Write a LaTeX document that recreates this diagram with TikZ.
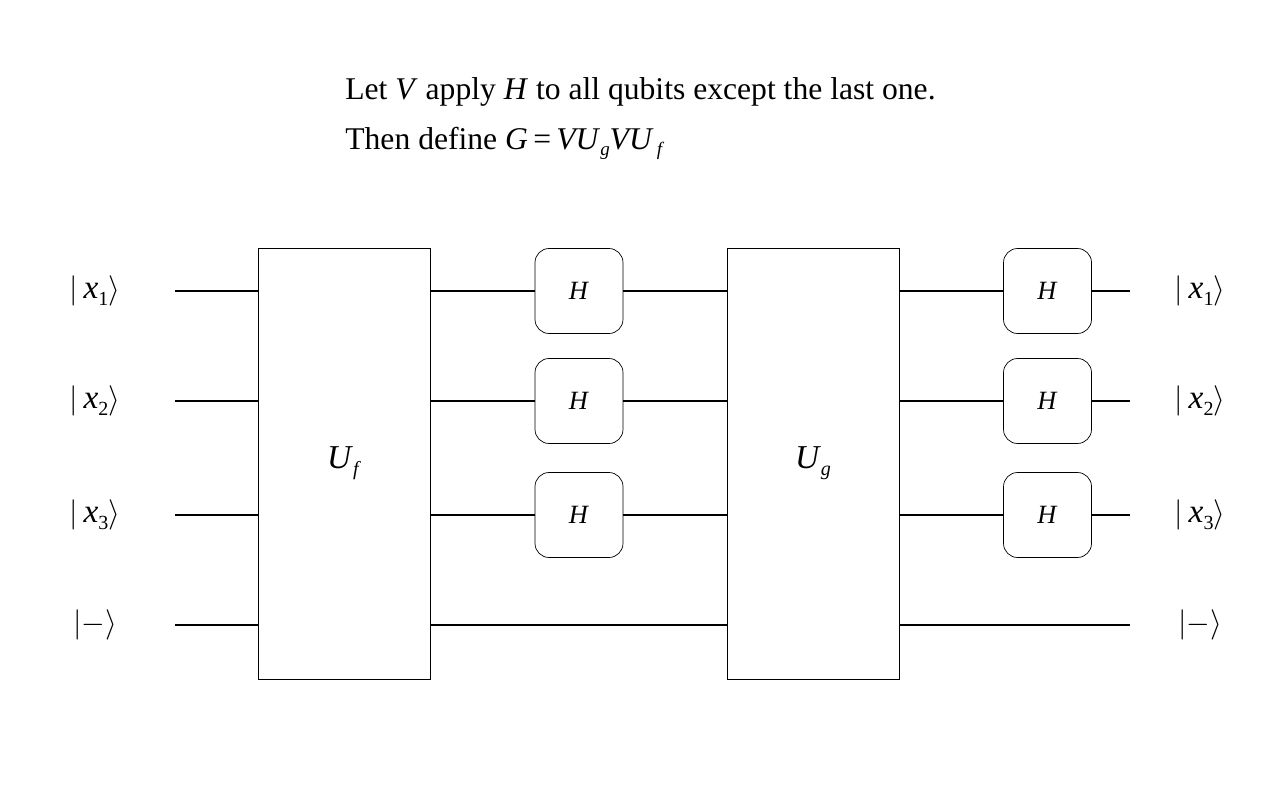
\documentclass[tikz,border=0pt]{standalone}
\usepackage{fontspec}
\setmainfont{Liberation Serif}
\newcommand{\vi}[1]{\textit{#1}}
\newcommand{\lo}[1]{\raisebox{-0.45ex}{\fontsize{0.6em}{1em}\selectfont #1}}
\tikzset{
  gate/.style={draw, rounded corners=8pt, minimum width=1.76cm, minimum height=1.7cm, font=\fontsize{15}{18}\selectfont},
  bigbox/.style={draw, minimum width=3.44cm, minimum height=8.62cm, font=\fontsize{19}{22}\selectfont},
  ket/.style={font=\fontsize{19}{22}\selectfont},
  wire/.style={thick}
}
\begin{document}
\begin{tikzpicture}[x=0.02cm, y=-0.02cm]
\useasboundingbox (0,0) rectangle (1280,794);

\node[anchor=base west, font=\fontsize{18}{22}\selectfont, inner sep=0] (line1) at (345,99) {Let \vi{V} apply \vi{H} to all qubits except the last one.};
\node[anchor=base west, font=\fontsize{18}{22}\selectfont, inner sep=0] (line2) at (345,149) {Then define \vi{G}\,=\,\vi{VU}\lo{\vi{g}}\vi{VU}\lo{\,\vi{f}}};

\node[bigbox] (uf) at (344,463.5) {\vi{U}\lo{\vi{f}}};
\node[bigbox] (ug) at (813,463.5) {\vi{U}\lo{\vi{g}}};

\foreach \i/\y in {1/291, 2/401, 3/515} {
  \node[ket] (kin\i) at (95,\y) {$|$\,\vi{x}\lo{\i}$\rangle$};
  \node[ket] (kout\i) at (1200,\y) {$|$\,\vi{x}\lo{\i}$\rangle$};
  \coordinate (in\i) at (175,\y);
  \coordinate (out\i) at (1130,\y);
  \node[gate] (ha\i) at (579,\y) {\vi{H}};
  \node[gate] (hb\i) at (1047.5,\y) {\vi{H}};
  \draw[wire] (in\i) -- (in\i -| uf.west);
  \draw[wire] (uf.east |- ha\i) -- (ha\i.west);
  \draw[wire] (ha\i.east) -- (ug.west |- ha\i);
  \draw[wire] (ug.east |- hb\i) -- (hb\i.west);
  \draw[wire] (hb\i.east) -- (out\i);
}
\node[ket] (kin4) at (95,625) {$|{-}\rangle$};
\node[ket] (kout4) at (1200,625) {$|{-}\rangle$};
\coordinate (in4) at (175,625);
\coordinate (out4) at (1130,625);
\draw[wire] (in4) -- (in4 -| uf.west);
\draw[wire] (uf.east |- in4) -- (ug.west |- in4);
\draw[wire] (ug.east |- in4) -- (out4);

\end{tikzpicture}
\end{document}
